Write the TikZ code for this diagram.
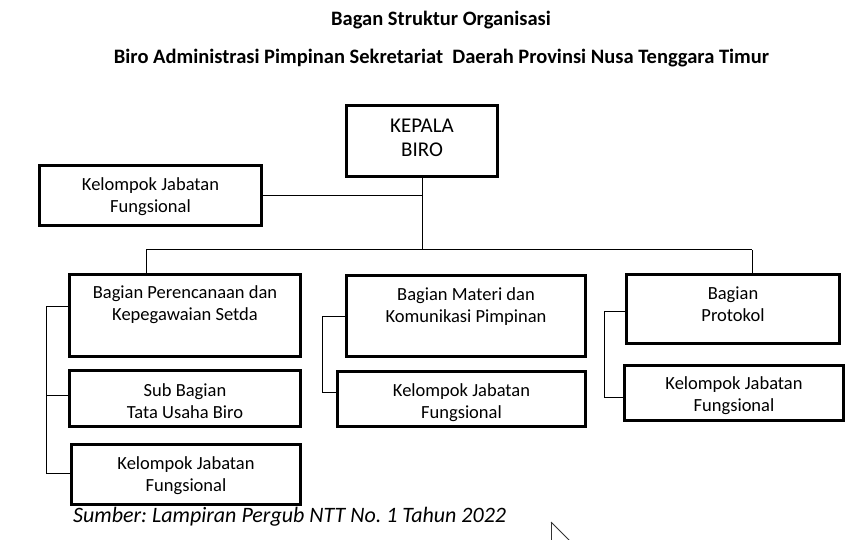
\documentclass[tikz,border=0pt]{standalone}
\usepackage{fontspec}
\setmainfont{Carlito}
\frenchspacing
\newcommand\bxt[4]{\parbox[c][#2][t]{#1}{\centering\vspace*{#3}\strut #4\par}}
\begin{document}
\begin{tikzpicture}[x=1pt,y=-1pt,
  box/.style={draw, line width=2.6pt, rectangle, inner sep=0pt,
    font=\fontsize{18.5}{22}\selectfont},
  conn/.style={draw, line width=1pt},
  ttl/.style={font=\bfseries\fontsize{20.5}{24}\selectfont, inner sep=0pt}]
\useasboundingbox (0,0) rectangle (868,540);
\setlength{\parskip}{0pt}
% titles
\node[ttl] (t1) at (441,20) {Bagan Struktur Organisasi};
\node[ttl] (t2) at (441.5,58) {Biro Administrasi Pimpinan Sekretariat\ \ Daerah Provinsi Nusa Tenggara Timur};
% boxes
\node[box, font=\fontsize{21}{23.5}\selectfont] (kepala) at (422,141) {\bxt{151pt}{71pt}{11pt}{KEPALA\\BIRO}};
\node[box] (k0) at (150.5,195.5) {\bxt{222pt}{60pt}{10pt}{Kelompok Jabatan\\Fungsional}};
\node[box] (bag1) at (185,315.5) {\bxt{231pt}{82pt}{9pt}{Bagian Perencanaan dan\\Kepegawaian Setda}};
\node[box] (sub) at (185,398.5) {\bxt{231pt}{56pt}{11pt}{Sub Bagian\\Tata Usaha Biro}};
\node[box] (kel1) at (186,474.5) {\bxt{229pt}{60pt}{10pt}{Kelompok Jabatan\\Fungsional}};
\node[box] (materi) at (466,316) {\bxt{239pt}{81pt}{10pt}{Bagian Materi dan\\Komunikasi Pimpinan}};
\node[box] (kel2) at (461.5,399) {\bxt{248pt}{55pt}{10pt}{Kelompok Jabatan\\Fungsional}};
\node[box] (prot) at (733,309) {\bxt{213pt}{69pt}{10pt}{Bagian\\Protokol}};
\node[box] (kel3) at (734,393) {\bxt{219pt}{55pt}{9pt}{Kelompok Jabatan\\Fungsional}};
% connectors
\coordinate (busL) at (146,250);
\coordinate (busR) at (752,250);
\draw[conn] (kepala.south |- 0,178) -- (kepala.south |- busL);
\draw[conn] (k0.east) -- (kepala.south |- k0.east);
\draw[conn] (busL) -- (busR);
\draw[conn] (busL) -- (busL |- bag1.north);
\draw[conn] (busR) -- (busR |- prot.north);
% left bracket
\draw[conn] (bag1.west |- 0,307) -- (46,307) -- (46,473) -- (kel1.west |- 0,473);
\draw[conn] (sub.west |- 0,395) -- (46,395);
% middle bracket
\draw[conn] (materi.west |- 0,316) -- (322,316) -- (322,392) -- (kel2.west |- 0,392);
% right bracket
\draw[conn] (prot.west |- 0,312) -- (604,312) -- (604,397) -- (kel3.west |- 0,397);
% source
\node[font=\itshape\fontsize{22}{26}\selectfont, anchor=west, inner sep=0pt] (src) at (73,517) {Sumber: Lampiran Pergub NTT No. 1 Tahun 2022};
% cursor
\coordinate (cur) at (551,522);
\draw[line width=0.8pt, black!80] (cur) -- (551,541);
\draw[line width=0.8pt, black!80] (cur) -- (570,541);
\end{tikzpicture}
\end{document}
